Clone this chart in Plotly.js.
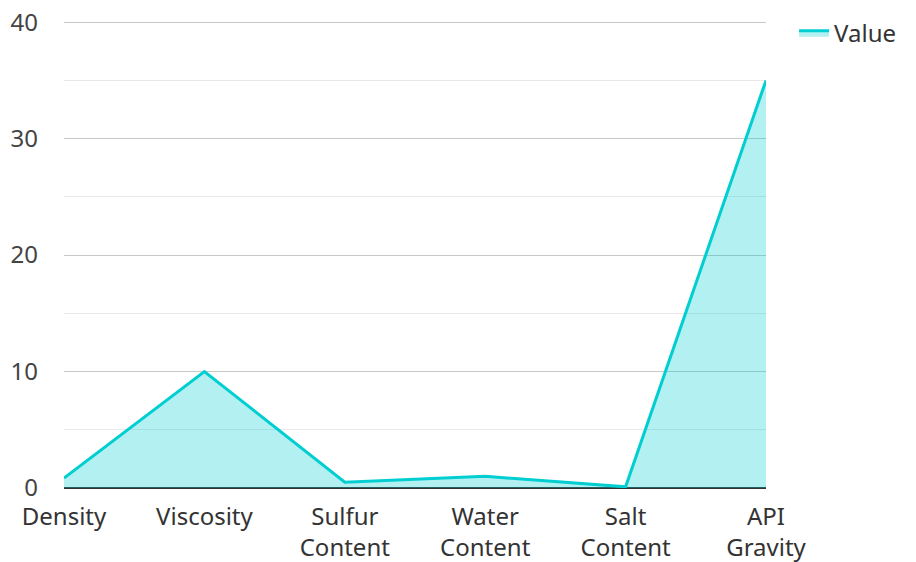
<!DOCTYPE html>
<html>
<head>
<meta charset="utf-8">
<script src="https://cdn.plot.ly/plotly-3.0.1.min.js"></script>
<style>html,body{margin:0;padding:0;background:#fff;}#chart{width:916px;height:562px;}</style>
</head>
<body>
<div id="chart"></div>
<script>
const categories = ["Density", "Viscosity", "Sulfur<br>Content", "Water<br>Content", "Salt<br>Content", "API<br>Gravity"];
const values = [0.85, 10, 0.5, 1.0, 0.1, 35];
const seriesName = "Value";

const trace = {
  x: categories,
  y: values,
  name: seriesName,
  type: 'scatter',
  mode: 'lines',
  fill: 'tozeroy',
  line: {color: '#00CED1', width: 3},
  fillcolor: 'rgba(0,206,209,0.3)'
};

const layout = {
  width: 916, height: 562,
  margin: {l: 64, r: 150, t: 20, b: 74},
  paper_bgcolor: '#fff', plot_bgcolor: '#fff',
  font: {family: '"Noto Sans", "Open Sans", sans-serif', size: 24, color: '#333'},
  showlegend: true,
  legend: {x: 1.04, y: 1.02, xanchor: 'left', yanchor: 'top', font: {size: 24, color: '#333'}, bgcolor: 'rgba(0,0,0,0)'},
  xaxis: {
    type: 'category',
    range: [0, 5],
    showgrid: false,
    zeroline: false,
    showline: false,
    ticks: '',
    ticklabelstandoff: 12,
    tickfont: {size: 24, color: '#333'},
    automargin: false
  },
  yaxis: {
    range: [0, 40.1],
    dtick: 10,
    showgrid: true,
    gridcolor: '#c8c8c8',
    gridwidth: 1,
    zeroline: true,
    zerolinecolor: '#333',
    zerolinewidth: 2,
    showline: false,
    ticks: '',
    ticklabelstandoff: 25,
    tickfont: {size: 24, color: '#444'},
    minor: {dtick: 5, showgrid: true, gridcolor: '#e8e8e8', gridwidth: 1},
    automargin: false
  }
};

Plotly.newPlot('chart', [trace], layout, {displayModeBar: false, staticPlot: true});
</script>
</body>
</html>
